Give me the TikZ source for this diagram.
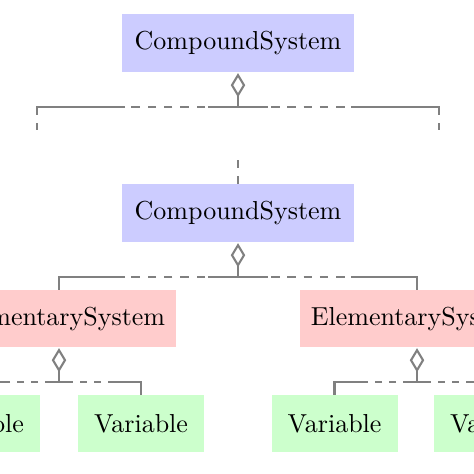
\documentclass[tikz,border=0pt]{standalone}
\usetikzlibrary{calc}
\newcommand{\bigtxt}[1]{\scalebox{2.6}{\fontsize{10}{12}\selectfont #1}}
\begin{document}
\begin{tikzpicture}[x=1pt,y=-1pt,
  link/.style={draw=gray, line width=2.4pt},
  ell/.style={link, dash pattern=on 8.5pt off 7.8pt, dash phase=13.3pt},
  ellsmall/.style={link, dash pattern=on 7pt off 7pt, dash phase=7pt},
  dmd/.style={draw=gray, line width=2.1pt, line join=miter},
  boxtext/.style={text=black, inner sep=0pt},
  cbox/.style={boxtext, fill=blue!20, minimum width=232pt, minimum height=58pt},
  ebox/.style={boxtext, fill=red!20, minimum width=234pt, minimum height=57pt},
  vbox/.style={boxtext, fill=green!20, minimum width=126pt, minimum height=57pt}]
\clip (0,0) rectangle (474,474);
\fill[white] (0,0) rectangle (474,474);

% nodes
\node[cbox] (c1) at (238,43) {\bigtxt{CompoundSystem}};
\node[cbox] (c2) at (238,213) {\bigtxt{CompoundSystem}};
\node[ebox] (e1) at (59,318.5) {\bigtxt{ElementarySystem}};
\node[ebox] (e2) at (417,318.5) {\bigtxt{ElementarySystem}};
\node[vbox] (v1) at (-23,423.5) {\bigtxt{Variable}};
\node[vbox] (v2) at (141,423.5) {\bigtxt{Variable}};
\node[vbox] (v3) at (334.5,423.5) {\bigtxt{Variable}};
\node[vbox] (v4) at (497,423.5) {\bigtxt{Variable}};

% bar points
\coordinate (t1) at (238,107);
\coordinate (t2) at (238,277);
\coordinate (t3) at (59,382);
\coordinate (t4) at (417,382);
\coordinate (l1) at (37,115);
\coordinate (r1) at (439,115);

% ---- level 1: c1 ----
\draw[dmd] ($(c1.south)+(0,3)$) -- ++(6,10) -- ++(-6,10) -- ++(-6,-10) -- cycle;
\draw[link] ($(c1.south)+(0,23)$) -- (t1);
\draw[link] (t1) -- ++(-30,0);
\draw[ell] ($(t1)+(-30,0)$) -- ($(t1)+(-113,0)$);
\draw[link] ($(t1)+(-113,0)$) -- (l1 |- t1) -- (l1);
\draw[link] (37,123) -- (37,130);
\draw[link] (t1) -- ++(30,0);
\draw[ell] ($(t1)+(30,0)$) -- ($(t1)+(113,0)$);
\draw[link] ($(t1)+(113,0)$) -- (r1 |- t1) -- (r1);
\draw[link] (439,123) -- (439,130);
\draw[link, dash pattern=on 8pt off 8pt] (c2.north) -- (238,160);

% ---- level 2: c2 ----
\draw[dmd] ($(c2.south)+(0,3)$) -- ++(6,10) -- ++(-6,10) -- ++(-6,-10) -- cycle;
\draw[link] ($(c2.south)+(0,23)$) -- (t2);
\draw[link] (t2) -- ++(-30,0);
\draw[ell] ($(t2)+(-30,0)$) -- ($(t2)+(-113,0)$);
\draw[link] ($(t2)+(-113,0)$) -- (e1.north |- t2) -- (e1.north);
\draw[link] (t2) -- ++(30,0);
\draw[ell] ($(t2)+(30,0)$) -- ($(t2)+(113,0)$);
\draw[link] ($(t2)+(113,0)$) -- (e2.north |- t2) -- (e2.north);

% ---- level 3: e1 ----
\draw[dmd] ($(e1.south)+(0,3)$) -- ++(6,10) -- ++(-6,10) -- ++(-6,-10) -- cycle;
\draw[link] ($(e1.south)+(0,23)$) -- (t3);
\draw[link] (t3) -- ++(-14,0);
\draw[ellsmall] ($(t3)+(-14,0)$) -- ($(t3)+(-54,0)$);
\draw[link] ($(t3)+(-54,0)$) -- (v1.north |- t3) -- (v1.north);
\draw[link] (t3) -- ++(14,0);
\draw[ellsmall] ($(t3)+(14,0)$) -- ($(t3)+(54,0)$);
\draw[link] ($(t3)+(54,0)$) -- (v2.north |- t3) -- (v2.north);

% ---- level 3: e2 ----
\draw[dmd] ($(e2.south)+(0,3)$) -- ++(6,10) -- ++(-6,10) -- ++(-6,-10) -- cycle;
\draw[link] ($(e2.south)+(0,23)$) -- (t4);
\draw[link] (t4) -- ++(-14,0);
\draw[ellsmall] ($(t4)+(-14,0)$) -- ($(t4)+(-55,0)$);
\draw[link] ($(t4)+(-55,0)$) -- (v3.north |- t4) -- (v3.north);
\draw[link] (t4) -- ++(14,0);
\draw[ellsmall] ($(t4)+(14,0)$) -- ($(t4)+(55,0)$);
\draw[link] ($(t4)+(55,0)$) -- (v4.north |- t4) -- (v4.north);
\end{tikzpicture}
\end{document}
